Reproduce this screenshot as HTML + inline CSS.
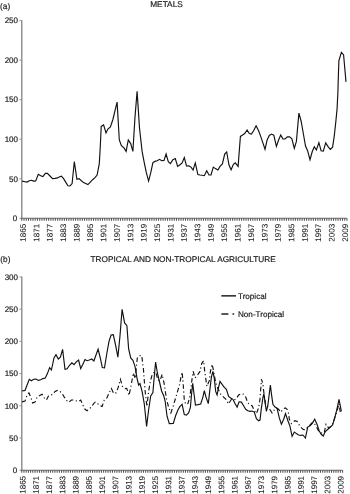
<!DOCTYPE html>
<html><head><meta charset="utf-8"><title>Commodity prices</title>
<style>
html,body{margin:0;padding:0;background:#fff;}
body{width:350px;height:494px;overflow:hidden;}
svg{display:block;}
text{text-rendering:geometricPrecision;font-family:"Liberation Sans",sans-serif;fill:#1a1a1a;stroke:#1a1a1a;stroke-width:0.18;}
.ay{stroke:#939393;stroke-width:1.5;fill:none;}
.ax{stroke:#6a6a6a;stroke-width:1.1;fill:none;}
.tk{stroke:#505050;stroke-width:1.05;fill:none;}
.ln{stroke:#111;stroke-width:1.15;fill:none;stroke-linejoin:miter;stroke-linecap:butt;}
</style></head><body>
<svg width="350" height="494" viewBox="0 0 350 494">
<rect width="350" height="494" fill="#fff"/>

<text transform="matrix(1,0.0004,0,1,0.10,8.85)" font-size="8.25">(a)</text>
<text transform="matrix(1,0.0004,0,1,166.50,7.00)" font-size="8.3" text-anchor="middle">METALS</text>
<path class="ay" d="M21.75,20.2 V218.9"/>
<path class="ax" d="M21.05,218.3 H347.0"/>
<text transform="matrix(1,0.0004,0,1,17.20,221.05)" font-size="8.0" text-anchor="end">0</text>
<text transform="matrix(1,0.0004,0,1,18.00,181.51)" font-size="8.0" text-anchor="end">50</text>
<text transform="matrix(1,0.0004,0,1,18.00,141.97)" font-size="8.0" text-anchor="end">100</text>
<text transform="matrix(1,0.0004,0,1,18.00,102.43)" font-size="8.0" text-anchor="end">150</text>
<text transform="matrix(1,0.0004,0,1,18.00,62.89)" font-size="8.0" text-anchor="end">200</text>
<text transform="matrix(1,0.0004,0,1,18.00,23.35)" font-size="8.0" text-anchor="end">250</text>
<path class="tk" style="stroke:#8a8a8a;stroke-width:0.9" d="M19.4,218.3H21.8M19.4,178.8H21.8M19.4,139.2H21.8M19.4,99.7H21.8M19.4,60.1H21.8M19.4,20.6H21.8"/>
<path class="tk" d="M21.75,218.3v2.5M23.99,218.3v2.5M26.24,218.3v2.5M28.48,218.3v2.5M30.72,218.3v2.5M32.97,218.3v2.5M35.21,218.3v2.5M37.45,218.3v2.5M39.69,218.3v2.5M41.94,218.3v2.5M44.18,218.3v2.5M46.42,218.3v2.5M48.67,218.3v2.5M50.91,218.3v2.5M53.15,218.3v2.5M55.40,218.3v2.5M57.64,218.3v2.5M59.88,218.3v2.5M62.13,218.3v2.5M64.37,218.3v2.5M66.61,218.3v2.5M68.86,218.3v2.5M71.10,218.3v2.5M73.34,218.3v2.5M75.58,218.3v2.5M77.83,218.3v2.5M80.07,218.3v2.5M82.31,218.3v2.5M84.56,218.3v2.5M86.80,218.3v2.5M89.04,218.3v2.5M91.29,218.3v2.5M93.53,218.3v2.5M95.77,218.3v2.5M98.02,218.3v2.5M100.26,218.3v2.5M102.50,218.3v2.5M104.74,218.3v2.5M106.99,218.3v2.5M109.23,218.3v2.5M111.47,218.3v2.5M113.72,218.3v2.5M115.96,218.3v2.5M118.20,218.3v2.5M120.45,218.3v2.5M122.69,218.3v2.5M124.93,218.3v2.5M127.18,218.3v2.5M129.42,218.3v2.5M131.66,218.3v2.5M133.91,218.3v2.5M136.15,218.3v2.5M138.39,218.3v2.5M140.63,218.3v2.5M142.88,218.3v2.5M145.12,218.3v2.5M147.36,218.3v2.5M149.61,218.3v2.5M151.85,218.3v2.5M154.09,218.3v2.5M156.34,218.3v2.5M158.58,218.3v2.5M160.82,218.3v2.5M163.07,218.3v2.5M165.31,218.3v2.5M167.55,218.3v2.5M169.79,218.3v2.5M172.04,218.3v2.5M174.28,218.3v2.5M176.52,218.3v2.5M178.77,218.3v2.5M181.01,218.3v2.5M183.25,218.3v2.5M185.50,218.3v2.5M187.74,218.3v2.5M189.98,218.3v2.5M192.23,218.3v2.5M194.47,218.3v2.5M196.71,218.3v2.5M198.96,218.3v2.5M201.20,218.3v2.5M203.44,218.3v2.5M205.68,218.3v2.5M207.93,218.3v2.5M210.17,218.3v2.5M212.41,218.3v2.5M214.66,218.3v2.5M216.90,218.3v2.5M219.14,218.3v2.5M221.39,218.3v2.5M223.63,218.3v2.5M225.87,218.3v2.5M228.12,218.3v2.5M230.36,218.3v2.5M232.60,218.3v2.5M234.84,218.3v2.5M237.09,218.3v2.5M239.33,218.3v2.5M241.57,218.3v2.5M243.82,218.3v2.5M246.06,218.3v2.5M248.30,218.3v2.5M250.55,218.3v2.5M252.79,218.3v2.5M255.03,218.3v2.5M257.28,218.3v2.5M259.52,218.3v2.5M261.76,218.3v2.5M264.01,218.3v2.5M266.25,218.3v2.5M268.49,218.3v2.5M270.73,218.3v2.5M272.98,218.3v2.5M275.22,218.3v2.5M277.46,218.3v2.5M279.71,218.3v2.5M281.95,218.3v2.5M284.19,218.3v2.5M286.44,218.3v2.5M288.68,218.3v2.5M290.92,218.3v2.5M293.17,218.3v2.5M295.41,218.3v2.5M297.65,218.3v2.5M299.89,218.3v2.5M302.14,218.3v2.5M304.38,218.3v2.5M306.62,218.3v2.5M308.87,218.3v2.5M311.11,218.3v2.5M313.35,218.3v2.5M315.60,218.3v2.5M317.84,218.3v2.5M320.08,218.3v2.5M322.33,218.3v2.5M324.57,218.3v2.5M326.81,218.3v2.5M329.06,218.3v2.5M331.30,218.3v2.5M333.54,218.3v2.5M335.78,218.3v2.5M338.03,218.3v2.5M340.27,218.3v2.5M342.51,218.3v2.5M344.76,218.3v2.5M347.00,218.3v2.5"/>
<text transform="translate(25.75,223.80) rotate(-89.97)" font-size="8.05" text-anchor="end" style="stroke-width:0.06">1865</text>
<text transform="translate(39.17,223.80) rotate(-89.97)" font-size="8.05" text-anchor="end" style="stroke-width:0.06">1871</text>
<text transform="translate(52.60,223.80) rotate(-89.97)" font-size="8.05" text-anchor="end" style="stroke-width:0.06">1877</text>
<text transform="translate(66.03,223.80) rotate(-89.97)" font-size="8.05" text-anchor="end" style="stroke-width:0.06">1883</text>
<text transform="translate(79.45,223.80) rotate(-89.97)" font-size="8.05" text-anchor="end" style="stroke-width:0.06">1889</text>
<text transform="translate(92.88,223.80) rotate(-89.97)" font-size="8.05" text-anchor="end" style="stroke-width:0.06">1895</text>
<text transform="translate(106.30,223.80) rotate(-89.97)" font-size="8.05" text-anchor="end" style="stroke-width:0.06">1901</text>
<text transform="translate(119.72,223.80) rotate(-89.97)" font-size="8.05" text-anchor="end" style="stroke-width:0.06">1907</text>
<text transform="translate(133.15,223.80) rotate(-89.97)" font-size="8.05" text-anchor="end" style="stroke-width:0.06">1913</text>
<text transform="translate(146.57,223.80) rotate(-89.97)" font-size="8.05" text-anchor="end" style="stroke-width:0.06">1919</text>
<text transform="translate(160.00,223.80) rotate(-89.97)" font-size="8.05" text-anchor="end" style="stroke-width:0.06">1925</text>
<text transform="translate(173.42,223.80) rotate(-89.97)" font-size="8.05" text-anchor="end" style="stroke-width:0.06">1931</text>
<text transform="translate(186.85,223.80) rotate(-89.97)" font-size="8.05" text-anchor="end" style="stroke-width:0.06">1937</text>
<text transform="translate(200.27,223.80) rotate(-89.97)" font-size="8.05" text-anchor="end" style="stroke-width:0.06">1943</text>
<text transform="translate(213.70,223.80) rotate(-89.97)" font-size="8.05" text-anchor="end" style="stroke-width:0.06">1949</text>
<text transform="translate(227.12,223.80) rotate(-89.97)" font-size="8.05" text-anchor="end" style="stroke-width:0.06">1955</text>
<text transform="translate(240.55,223.80) rotate(-89.97)" font-size="8.05" text-anchor="end" style="stroke-width:0.06">1961</text>
<text transform="translate(253.97,223.80) rotate(-89.97)" font-size="8.05" text-anchor="end" style="stroke-width:0.06">1967</text>
<text transform="translate(267.40,223.80) rotate(-89.97)" font-size="8.05" text-anchor="end" style="stroke-width:0.06">1973</text>
<text transform="translate(280.82,223.80) rotate(-89.97)" font-size="8.05" text-anchor="end" style="stroke-width:0.06">1979</text>
<text transform="translate(294.25,223.80) rotate(-89.97)" font-size="8.05" text-anchor="end" style="stroke-width:0.06">1985</text>
<text transform="translate(307.67,223.80) rotate(-89.97)" font-size="8.05" text-anchor="end" style="stroke-width:0.06">1991</text>
<text transform="translate(321.10,223.80) rotate(-89.97)" font-size="8.05" text-anchor="end" style="stroke-width:0.06">1997</text>
<text transform="translate(334.52,223.80) rotate(-89.97)" font-size="8.05" text-anchor="end" style="stroke-width:0.06">2003</text>
<text transform="translate(347.95,223.80) rotate(-89.97)" font-size="8.05" text-anchor="end" style="stroke-width:0.06">2009</text>
<polyline class="ln" points="22.1,181.1 25.0,181.7 27.1,182.1 29.3,180.7 31.4,180.3 33.6,181.1 35.7,180.9 38.3,174.3 40.7,175.7 42.9,176.6 45.4,173.4 47.4,173.3 50.0,176.0 52.6,178.6 55.0,178.4 57.4,177.9 59.7,176.7 61.4,176.1 63.6,178.6 65.7,182.1 67.9,185.7 70.0,186.0 72.1,183.6 74.3,161.7 76.9,179.3 79.0,178.6 81.4,180.7 83.6,182.6 85.7,183.6 87.9,184.6 90.3,182.1 92.6,179.7 95.0,177.6 97.1,175.0 99.3,163.6 100.4,144.3 101.2,126.4 103.6,124.8 106.0,133.0 107.9,129.0 110.4,126.9 112.9,119.5 115.0,110.7 117.1,102.1 119.3,140.0 121.4,145.7 124.0,147.9 126.1,151.4 128.3,140.0 130.7,143.6 132.9,151.4 135.0,117.0 137.1,91.4 139.5,128.0 142.1,151.4 144.3,162.9 146.4,172.9 148.6,181.1 150.7,172.9 152.9,162.6 155.0,161.4 157.1,160.7 159.6,159.3 161.7,160.7 164.0,160.4 166.1,154.0 168.3,161.7 170.4,163.6 172.9,159.7 175.3,158.6 177.6,166.4 179.7,165.0 182.1,162.9 184.3,157.6 186.5,166.0 188.8,165.9 191.0,167.1 193.1,170.0 195.3,162.9 197.9,174.6 200.0,175.0 202.1,175.3 204.3,175.7 206.7,170.7 209.0,175.0 211.0,175.0 213.3,167.1 215.4,168.6 217.9,170.0 220.0,166.4 222.4,164.0 224.7,154.0 226.7,151.9 229.0,165.0 231.1,169.7 233.4,164.3 235.3,162.9 238.1,166.4 240.4,136.4 242.6,135.0 244.7,133.6 247.1,130.0 249.3,133.6 251.4,134.0 253.6,130.7 256.1,125.7 258.6,130.7 260.7,136.4 262.9,142.9 265.0,149.3 267.1,140.0 269.3,135.5 271.4,134.1 273.8,135.2 276.4,146.4 278.6,140.0 280.7,135.0 282.9,138.9 285.0,139.0 287.4,136.9 289.6,136.9 291.9,138.9 294.3,148.3 296.4,141.4 298.9,113.1 301.2,121.5 303.4,134.0 305.5,146.0 307.6,150.7 310.0,159.7 312.2,151.8 314.3,146.7 316.4,150.0 318.9,142.6 321.1,150.7 323.3,151.1 325.7,142.9 327.9,146.4 330.3,149.3 332.6,147.1 334.3,135.7 335.7,122.9 337.1,108.6 337.9,92.1 338.3,77.9 338.9,60.7 341.4,52.4 343.6,55.0 346.0,81.9"/>
<text transform="matrix(1,0.0004,0,1,0.30,262.20)" font-size="8.25">(b)</text>
<text transform="matrix(1,0.0004,0,1,183.15,262.45)" font-size="8.28" text-anchor="middle">TROPICAL AND NON-TROPICAL AGRICULTURE</text>
<path class="ay" d="M21.75,276.6 V470.8"/>
<path class="ax" d="M21.05,470.2 H342.6"/>
<text transform="matrix(1,0.0004,0,1,17.20,472.95)" font-size="8.0" text-anchor="end">0</text>
<text transform="matrix(1,0.0004,0,1,18.00,440.75)" font-size="8.0" text-anchor="end">50</text>
<text transform="matrix(1,0.0004,0,1,18.00,408.55)" font-size="8.0" text-anchor="end">100</text>
<text transform="matrix(1,0.0004,0,1,18.00,376.35)" font-size="8.0" text-anchor="end">150</text>
<text transform="matrix(1,0.0004,0,1,18.00,344.15)" font-size="8.0" text-anchor="end">200</text>
<text transform="matrix(1,0.0004,0,1,18.00,311.95)" font-size="8.0" text-anchor="end">250</text>
<text transform="matrix(1,0.0004,0,1,18.00,279.75)" font-size="8.0" text-anchor="end">300</text>
<path class="tk" style="stroke:#8a8a8a;stroke-width:0.9" d="M19.4,470.2H21.8M19.4,438.0H21.8M19.4,405.8H21.8M19.4,373.6H21.8M19.4,341.4H21.8M19.4,309.2H21.8M19.4,277.0H21.8"/>
<path class="tk" d="M21.75,470.2v2.5M23.96,470.2v2.5M26.18,470.2v2.5M28.39,470.2v2.5M30.60,470.2v2.5M32.81,470.2v2.5M35.03,470.2v2.5M37.24,470.2v2.5M39.45,470.2v2.5M41.66,470.2v2.5M43.88,470.2v2.5M46.09,470.2v2.5M48.30,470.2v2.5M50.52,470.2v2.5M52.73,470.2v2.5M54.94,470.2v2.5M57.15,470.2v2.5M59.37,470.2v2.5M61.58,470.2v2.5M63.79,470.2v2.5M66.01,470.2v2.5M68.22,470.2v2.5M70.43,470.2v2.5M72.64,470.2v2.5M74.86,470.2v2.5M77.07,470.2v2.5M79.28,470.2v2.5M81.49,470.2v2.5M83.71,470.2v2.5M85.92,470.2v2.5M88.13,470.2v2.5M90.35,470.2v2.5M92.56,470.2v2.5M94.77,470.2v2.5M96.98,470.2v2.5M99.20,470.2v2.5M101.41,470.2v2.5M103.62,470.2v2.5M105.83,470.2v2.5M108.05,470.2v2.5M110.26,470.2v2.5M112.47,470.2v2.5M114.69,470.2v2.5M116.90,470.2v2.5M119.11,470.2v2.5M121.32,470.2v2.5M123.54,470.2v2.5M125.75,470.2v2.5M127.96,470.2v2.5M130.18,470.2v2.5M132.39,470.2v2.5M134.60,470.2v2.5M136.81,470.2v2.5M139.03,470.2v2.5M141.24,470.2v2.5M143.45,470.2v2.5M145.66,470.2v2.5M147.88,470.2v2.5M150.09,470.2v2.5M152.30,470.2v2.5M154.52,470.2v2.5M156.73,470.2v2.5M158.94,470.2v2.5M161.15,470.2v2.5M163.37,470.2v2.5M165.58,470.2v2.5M167.79,470.2v2.5M170.00,470.2v2.5M172.22,470.2v2.5M174.43,470.2v2.5M176.64,470.2v2.5M178.86,470.2v2.5M181.07,470.2v2.5M183.28,470.2v2.5M185.49,470.2v2.5M187.71,470.2v2.5M189.92,470.2v2.5M192.13,470.2v2.5M194.35,470.2v2.5M196.56,470.2v2.5M198.77,470.2v2.5M200.98,470.2v2.5M203.20,470.2v2.5M205.41,470.2v2.5M207.62,470.2v2.5M209.83,470.2v2.5M212.05,470.2v2.5M214.26,470.2v2.5M216.47,470.2v2.5M218.69,470.2v2.5M220.90,470.2v2.5M223.11,470.2v2.5M225.32,470.2v2.5M227.54,470.2v2.5M229.75,470.2v2.5M231.96,470.2v2.5M234.17,470.2v2.5M236.39,470.2v2.5M238.60,470.2v2.5M240.81,470.2v2.5M243.03,470.2v2.5M245.24,470.2v2.5M247.45,470.2v2.5M249.66,470.2v2.5M251.88,470.2v2.5M254.09,470.2v2.5M256.30,470.2v2.5M258.52,470.2v2.5M260.73,470.2v2.5M262.94,470.2v2.5M265.15,470.2v2.5M267.37,470.2v2.5M269.58,470.2v2.5M271.79,470.2v2.5M274.00,470.2v2.5M276.22,470.2v2.5M278.43,470.2v2.5M280.64,470.2v2.5M282.86,470.2v2.5M285.07,470.2v2.5M287.28,470.2v2.5M289.49,470.2v2.5M291.71,470.2v2.5M293.92,470.2v2.5M296.13,470.2v2.5M298.34,470.2v2.5M300.56,470.2v2.5M302.77,470.2v2.5M304.98,470.2v2.5M307.20,470.2v2.5M309.41,470.2v2.5M311.62,470.2v2.5M313.83,470.2v2.5M316.05,470.2v2.5M318.26,470.2v2.5M320.47,470.2v2.5M322.69,470.2v2.5M324.90,470.2v2.5M327.11,470.2v2.5M329.32,470.2v2.5M331.54,470.2v2.5M333.75,470.2v2.5M335.96,470.2v2.5M338.17,470.2v2.5M340.39,470.2v2.5M342.60,470.2v2.5"/>
<text transform="translate(25.45,475.90) rotate(-89.97)" font-size="8.05" text-anchor="end" style="stroke-width:0.06">1865</text>
<text transform="translate(38.70,475.90) rotate(-89.97)" font-size="8.05" text-anchor="end" style="stroke-width:0.06">1871</text>
<text transform="translate(51.96,475.90) rotate(-89.97)" font-size="8.05" text-anchor="end" style="stroke-width:0.06">1877</text>
<text transform="translate(65.21,475.90) rotate(-89.97)" font-size="8.05" text-anchor="end" style="stroke-width:0.06">1883</text>
<text transform="translate(78.47,475.90) rotate(-89.97)" font-size="8.05" text-anchor="end" style="stroke-width:0.06">1889</text>
<text transform="translate(91.72,475.90) rotate(-89.97)" font-size="8.05" text-anchor="end" style="stroke-width:0.06">1895</text>
<text transform="translate(104.97,475.90) rotate(-89.97)" font-size="8.05" text-anchor="end" style="stroke-width:0.06">1901</text>
<text transform="translate(118.23,475.90) rotate(-89.97)" font-size="8.05" text-anchor="end" style="stroke-width:0.06">1907</text>
<text transform="translate(131.48,475.90) rotate(-89.97)" font-size="8.05" text-anchor="end" style="stroke-width:0.06">1913</text>
<text transform="translate(144.74,475.90) rotate(-89.97)" font-size="8.05" text-anchor="end" style="stroke-width:0.06">1919</text>
<text transform="translate(157.99,475.90) rotate(-89.97)" font-size="8.05" text-anchor="end" style="stroke-width:0.06">1925</text>
<text transform="translate(171.24,475.90) rotate(-89.97)" font-size="8.05" text-anchor="end" style="stroke-width:0.06">1931</text>
<text transform="translate(184.50,475.90) rotate(-89.97)" font-size="8.05" text-anchor="end" style="stroke-width:0.06">1937</text>
<text transform="translate(197.75,475.90) rotate(-89.97)" font-size="8.05" text-anchor="end" style="stroke-width:0.06">1943</text>
<text transform="translate(211.01,475.90) rotate(-89.97)" font-size="8.05" text-anchor="end" style="stroke-width:0.06">1949</text>
<text transform="translate(224.26,475.90) rotate(-89.97)" font-size="8.05" text-anchor="end" style="stroke-width:0.06">1955</text>
<text transform="translate(237.51,475.90) rotate(-89.97)" font-size="8.05" text-anchor="end" style="stroke-width:0.06">1961</text>
<text transform="translate(250.77,475.90) rotate(-89.97)" font-size="8.05" text-anchor="end" style="stroke-width:0.06">1967</text>
<text transform="translate(264.02,475.90) rotate(-89.97)" font-size="8.05" text-anchor="end" style="stroke-width:0.06">1973</text>
<text transform="translate(277.28,475.90) rotate(-89.97)" font-size="8.05" text-anchor="end" style="stroke-width:0.06">1979</text>
<text transform="translate(290.53,475.90) rotate(-89.97)" font-size="8.05" text-anchor="end" style="stroke-width:0.06">1985</text>
<text transform="translate(303.78,475.90) rotate(-89.97)" font-size="8.05" text-anchor="end" style="stroke-width:0.06">1991</text>
<text transform="translate(317.04,475.90) rotate(-89.97)" font-size="8.05" text-anchor="end" style="stroke-width:0.06">1997</text>
<text transform="translate(330.29,475.90) rotate(-89.97)" font-size="8.05" text-anchor="end" style="stroke-width:0.06">2003</text>
<text transform="translate(343.55,475.90) rotate(-89.97)" font-size="8.05" text-anchor="end" style="stroke-width:0.06">2009</text>
<polyline class="ln" points="22.1,391.0 25.0,390.4 27.1,385.0 29.3,379.3 31.4,380.7 33.6,379.3 36.0,379.0 38.3,380.4 40.7,379.7 42.9,378.6 45.3,378.1 47.4,373.6 49.6,367.6 51.4,370.0 54.0,357.9 56.0,354.7 58.3,359.0 60.4,357.1 62.6,349.3 65.0,369.3 67.1,368.8 69.7,365.0 71.9,362.9 74.0,364.7 76.1,362.1 78.6,360.0 80.7,368.6 82.9,364.3 85.0,359.6 87.1,360.7 89.3,360.0 91.7,359.0 93.9,361.0 96.0,355.0 98.1,349.3 100.3,358.0 102.3,367.5 104.5,367.9 106.9,353.0 109.0,341.4 111.1,335.0 113.3,334.7 115.7,345.7 117.9,357.1 120.0,335.7 122.1,309.3 124.6,322.9 126.9,325.7 128.6,348.6 130.7,357.9 132.9,360.3 135.0,366.4 137.1,378.6 138.6,385.0 140.0,383.6 142.1,391.4 144.3,404.0 146.6,426.4 148.6,410.0 150.7,396.0 152.9,392.5 154.3,376.0 155.6,362.1 157.4,373.0 159.4,381.5 161.6,391.0 163.8,396.0 165.2,401.5 167.1,416.5 169.3,423.6 173.3,423.4 175.7,415.5 177.9,410.0 180.0,406.4 182.1,404.3 184.3,414.6 186.4,415.2 188.6,412.9 190.4,407.5 191.4,395.7 192.7,383.2 194.1,394.5 195.4,405.0 197.9,404.6 200.7,404.0 202.9,397.1 204.3,390.7 206.0,397.1 208.3,403.6 210.0,388.6 211.4,377.1 212.9,371.4 214.3,378.6 215.7,391.4 217.1,395.0 218.6,387.1 220.0,381.4 222.1,384.3 224.3,387.4 226.4,389.3 228.6,396.4 230.7,397.9 232.9,399.3 235.0,403.6 237.1,407.1 239.1,401.8 241.4,402.1 243.6,405.7 245.7,409.3 247.9,410.7 250.0,411.4 252.1,411.0 254.3,412.1 256.4,418.6 258.6,420.7 260.0,420.0 261.4,407.9 262.9,397.9 263.9,393.6 265.0,402.1 266.4,411.4 267.9,405.0 269.3,393.6 270.4,385.0 271.4,393.6 272.9,404.3 275.0,407.1 277.1,408.3 279.3,417.9 281.4,424.3 283.6,419.5 285.5,413.6 287.9,420.7 290.0,426.4 292.1,436.4 294.3,432.1 296.4,433.6 298.6,435.0 300.7,435.3 302.9,435.0 305.4,438.0 307.7,427.1 310.0,425.7 312.1,423.6 314.7,419.3 317.0,424.3 319.1,430.7 321.2,434.3 323.2,436.0 325.3,431.6 327.9,429.3 330.4,427.1 332.6,425.0 334.7,417.9 336.9,409.3 339.0,399.3 341.4,411.4"/>
<polyline class="ln" stroke-dasharray="4.6 2.6 1.2 2.6" points="22.1,401.9 25.0,401.1 26.9,395.7 28.9,392.9 30.7,397.1 32.6,402.9 35.0,402.1 37.1,397.1 39.3,395.7 42.1,394.3 44.3,397.9 46.4,400.0 48.6,395.7 50.7,395.0 52.9,394.3 55.0,391.4 57.4,390.4 59.7,391.0 62.1,393.6 64.3,397.1 66.6,400.5 68.9,402.3 71.4,400.0 73.9,400.0 76.1,400.7 78.6,401.4 80.7,400.0 82.9,405.0 85.0,409.3 87.1,410.7 89.3,408.6 91.4,407.1 93.6,403.6 95.3,402.1 97.6,403.6 100.0,405.7 102.1,406.4 104.3,400.0 106.9,397.9 109.2,392.8 111.4,388.6 113.8,393.6 116.1,392.9 118.3,387.1 120.4,379.3 122.4,386.4 124.6,388.6 126.7,388.3 129.0,395.4 131.1,385.7 133.3,372.9 135.3,378.6 137.3,358.0 139.5,355.7 141.7,355.5 143.4,368.6 145.0,390.0 146.9,406.5 148.6,391.4 150.4,381.0 152.2,374.5 153.8,372.6 155.7,372.1 157.9,380.0 160.0,380.7 162.1,374.3 164.3,384.3 166.4,398.6 168.6,407.1 170.9,412.9 172.9,407.1 175.0,400.0 177.1,392.9 179.3,385.7 181.4,375.0 182.1,372.1 183.1,382.9 184.3,400.0 185.7,404.3 187.9,403.6 190.0,396.0 192.1,378.6 193.2,371.4 195.0,377.9 197.1,375.7 200.0,371.4 201.7,363.6 203.6,360.7 204.7,371.4 206.9,386.4 209.3,380.7 210.4,371.4 212.1,364.3 214.0,372.9 215.7,382.9 217.9,388.6 220.7,394.3 223.6,397.1 226.4,399.7 228.6,404.0 231.4,399.3 234.3,400.0 236.4,398.6 238.6,395.0 241.4,393.6 243.6,394.3 245.7,397.1 247.9,402.9 250.0,405.0 252.1,405.7 254.3,410.7 256.4,413.6 258.6,407.9 260.0,399.3 260.4,392.1 261.0,386.4 261.4,379.3 262.9,383.6 263.6,390.7 264.7,397.9 265.7,405.0 268.0,407.0 270.7,410.7 272.1,412.9 274.3,410.0 276.4,407.9 278.6,409.3 280.7,412.1 283.6,408.6 285.3,407.9 287.1,409.3 288.6,413.6 289.3,419.3 291.4,423.6 292.9,422.1 295.0,420.7 297.1,421.4 300.0,426.4 302.9,429.3 305.0,430.0 308.6,426.4 310.0,425.0 312.4,422.4 314.3,423.6 316.4,426.4 317.9,430.0 320.0,432.1 322.1,433.3 324.3,432.5 326.0,424.3 328.6,427.9 332.1,425.7 335.0,417.1 337.1,410.7 339.0,403.6 340.4,412.9"/>
<path class="ln" style="stroke-width:1.5;stroke:#222" d="M221.3,295.85H236"/>
<text transform="matrix(1,0.0004,0,1,238.00,298.55)" font-size="8.12">Tropical</text>
<path class="ln" style="stroke-width:1.5;stroke:#222" d="M221.4,314.1H228.4M232.5,314.1h1.7"/>
<text transform="matrix(1,0.0004,0,1,238.00,317.10)" font-size="8.12">Non-Tropical</text>
</svg></body></html>
